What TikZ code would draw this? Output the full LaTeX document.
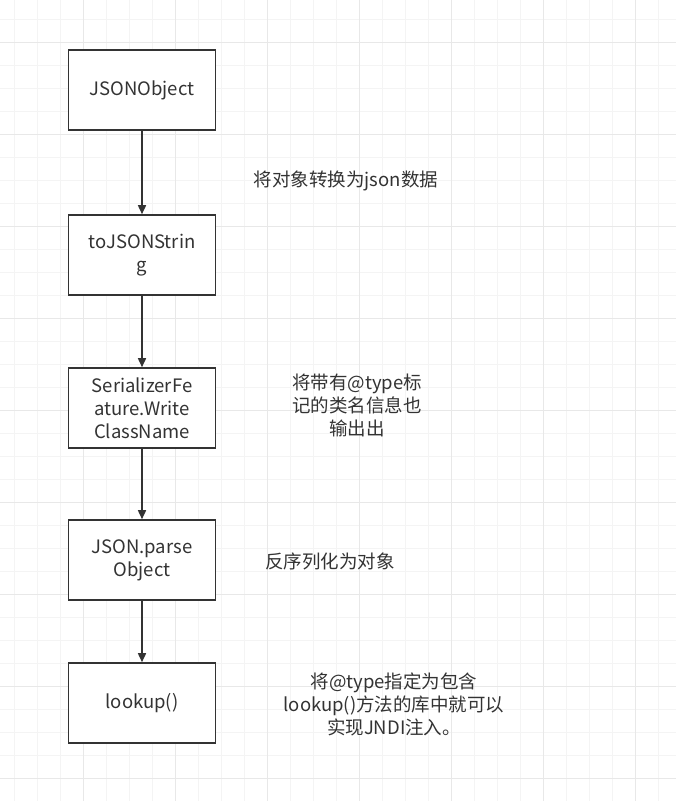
\documentclass[tikz,border=0pt]{standalone}
\usepackage{fontspec}
\setmainfont{Noto Sans CJK SC}
\usetikzlibrary{arrows.meta}
\definecolor{tx}{HTML}{333333}
\begin{document}
\begin{tikzpicture}[x=1pt,y=-1pt,
  box/.style={draw=tx,line width=1.6pt,fill=white,minimum width=144pt,minimum height=80pt,align=center,text width=140pt,font=\fontsize{18.5}{23}\selectfont,text=tx},
  lab/.style={align=center,font=\fontsize{18.5}{23}\selectfont,text=tx},
  arr/.style={draw=tx,line width=1.6pt,-{Triangle[length=9pt,width=8pt]}}]
\useasboundingbox (0,0) rectangle (676,801);
\fill[white] (0,0) rectangle (676,801);
\foreach \i in {0,...,30}{\draw[gray!9,line width=0.7pt] ({-9+23*\i},0) -- ({-9+23*\i},801);}
\foreach \i in {0,...,35}{\draw[gray!9,line width=0.7pt] (0,{-4+23*\i}) -- (676,{-4+23*\i});}
\foreach \i in {0,...,8}{\draw[gray!18,line width=0.8pt] ({-9+92*\i},0) -- ({-9+92*\i},801);}
\foreach \i in {0,...,9}{\draw[gray!18,line width=0.8pt] (0,{42+92*\i}) -- (676,{42+92*\i});}
\node[box] (a) at (142,90) {JSONObject};
\node[box] (b) at (142,255) {toJSONStrin\\g};
\node[box] (c) at (142,408) {SerializerFe\\ature.Write\\ClassName};
\node[box] (d) at (142,560) {JSON.parse\\Object};
\node[box] (e) at (142,703) {lookup()};
\draw[arr] (a) -- (b);
\draw[arr] (b) -- (c);
\draw[arr] (c) -- (d);
\draw[arr] (d) -- (e);
\node[lab] (l1) at (346,181) {将对象转换为json数据};
\node[lab] (l2) at (357,405) {将带有@type标\\记的类名信息也\\输出出};
\node[lab] (l3) at (330,561) {反序列化为对象};
\node[lab] (l4) at (394,704) {将@type指定为包含\\lookup()方法的库中就可以\\实现JNDI注入。};
\end{tikzpicture}
\end{document}
